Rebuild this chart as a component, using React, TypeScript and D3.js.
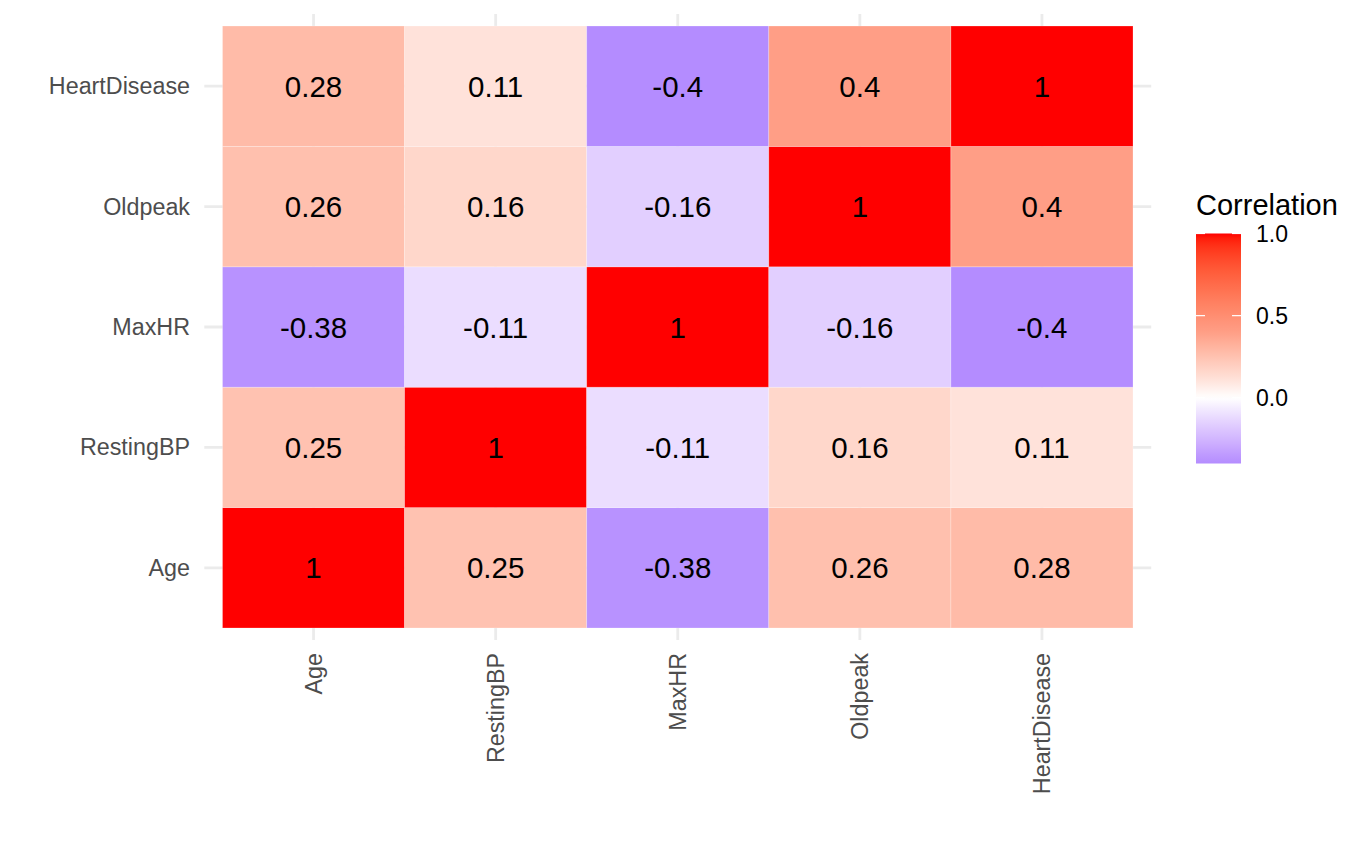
import React from "react";
import * as d3 from "d3";

const variables = ["Age", "RestingBP", "MaxHR", "Oldpeak", "HeartDisease"];
// correlation matrix rows follow `variables`
const ageRow = [1, 0.25, -0.38, 0.26, 0.28];
const restingBPRow = [0.25, 1, -0.11, 0.16, 0.11];
const maxHRRow = [-0.38, -0.11, 1, -0.16, -0.4];
const oldpeakRow = [0.26, 0.16, -0.16, 1, 0.4];
const heartDiseaseRow = [0.28, 0.11, -0.4, 0.4, 1];
const matrix = [ageRow, restingBPRow, maxHRRow, oldpeakRow, heartDiseaseRow];
const legendTicks = [0, 0.5, 1.0];
const legendMin = -0.4;
const legendMax = 1.0;

const colorStops = [-0.4, -0.11, 0, 0.11, 0.28, 0.4, 1];
const colorValues = ["#b48cff", "#ebddff", "#ffffff", "#ffe2da", "#ffbba8", "#ff9e86", "#ff0000"];

const W = 1368;
const H = 845;
const FONT = "'Liberation Sans', Arial, Helvetica, sans-serif";

export default function App() {
  const x = d3.scaleBand<string>().domain(variables).range([222.5, 1133]).padding(0);
  const y = d3.scaleBand<string>().domain([...variables].reverse()).range([26, 628]).padding(0);
  const color = d3
    .scaleLinear<string>()
    .domain(colorStops)
    .range(colorValues)
    .interpolate(d3.interpolateLab)
    .clamp(true);

  const bw = x.bandwidth();
  const bh = y.bandwidth();
  const xs = variables.map((v) => (x(v) as number) + bw / 2);
  const ys = variables.map((v) => (y(v) as number) + bh / 2);
  const gx0 = d3.min(xs)! - 0.6 * bw;
  const gx1 = d3.max(xs)! + 0.6 * bw;
  const gy0 = d3.min(ys)! - 0.6 * bh;
  const gy1 = d3.max(ys)! + 0.6 * bh;

  const cells: { r: string; c: string; v: number }[] = [];
  variables.forEach((r, i) => variables.forEach((c, j) => cells.push({ r, c, v: matrix[i][j] })));

  const ly = d3.scaleLinear().domain([legendMin, legendMax]).range([463.5, 233.5]);
  const barX = 1196;
  const barW = 45;
  const gradStops = d3.range(0, 1.0001, 0.02).map((t) => legendMin + t * (legendMax - legendMin));

  return (
    <svg width={W} height={H} style={{ display: "block", position: "absolute", left: 0, top: 0 }} fontFamily={FONT}>
      <defs>
        <linearGradient id="lg" x1="0" y1="1" x2="0" y2="0">
          {gradStops.map((v, i) => (
            <stop key={i} offset={(v - legendMin) / (legendMax - legendMin)} stopColor={color(v)} />
          ))}
        </linearGradient>
      </defs>
      <rect x={0} y={0} width={W} height={H} fill="#ffffff" />
      {/* grid */}
      {xs.map((cx, i) => (
        <line key={"gv" + i} x1={cx} x2={cx} y1={gy0} y2={gy1} stroke="#ebebeb" strokeWidth={2.8} />
      ))}
      {ys.map((cy, i) => (
        <line key={"gh" + i} x1={gx0} x2={gx1} y1={cy} y2={cy} stroke="#ebebeb" strokeWidth={2.8} />
      ))}
      {/* tiles */}
      {cells.map((d, i) => (
        <rect
          key={"t" + i}
          x={x(d.c)}
          y={y(d.r)}
          width={bw}
          height={bh}
          fill={color(d.v)}
          stroke="#ffffff"
          strokeOpacity={0.3}
          strokeWidth={0.8}
        />
      ))}
      {cells.map((d, i) => (
        <text
          key={"l" + i}
          x={(x(d.c) as number) + bw / 2}
          y={(y(d.r) as number) + bh / 2}
          textAnchor="middle"
          dominantBaseline="central"
          fontSize={29.5}
          fill="#000000"
        >
          {String(d.v)}
        </text>
      ))}
      {/* y axis labels */}
      {variables.map((v, i) => (
        <text
          key={"yl" + i}
          x={190}
          y={(y(v) as number) + bh / 2}
          textAnchor="end"
          dominantBaseline="central"
          fontSize={23.3}
          fill="#4d4d4d"
        >
          {v}
        </text>
      ))}
      {/* x axis labels */}
      {variables.map((v, i) => (
        <text
          key={"xl" + i}
          transform={`translate(${(x(v) as number) + bw / 2},${653}) rotate(-90)`}
          textAnchor="end"
          dominantBaseline="central"
          fontSize={23.3}
          fill="#4d4d4d"
        >
          {v}
        </text>
      ))}
      {/* legend */}
      <text x={barX} y={215} fontSize={29} fill="#000000">
        Correlation
      </text>
      <rect x={barX} y={ly(legendMax)} width={barW} height={ly(legendMin) - ly(legendMax)} fill="url(#lg)" />
      {legendTicks.map((t, i) => (
        <g key={"lt" + i}>
          <line x1={barX} x2={barX + barW / 5} y1={ly(t)} y2={ly(t)} stroke="#ffffff" strokeWidth={1.2} />
          <line x1={barX + barW - barW / 5} x2={barX + barW} y1={ly(t)} y2={ly(t)} stroke="#ffffff" strokeWidth={1.2} />
          <text x={1256} y={ly(t)} dominantBaseline="central" fontSize={23} fill="#000000">
            {d3.format(".1f")(t)}
          </text>
        </g>
      ))}
    </svg>
  );
}
